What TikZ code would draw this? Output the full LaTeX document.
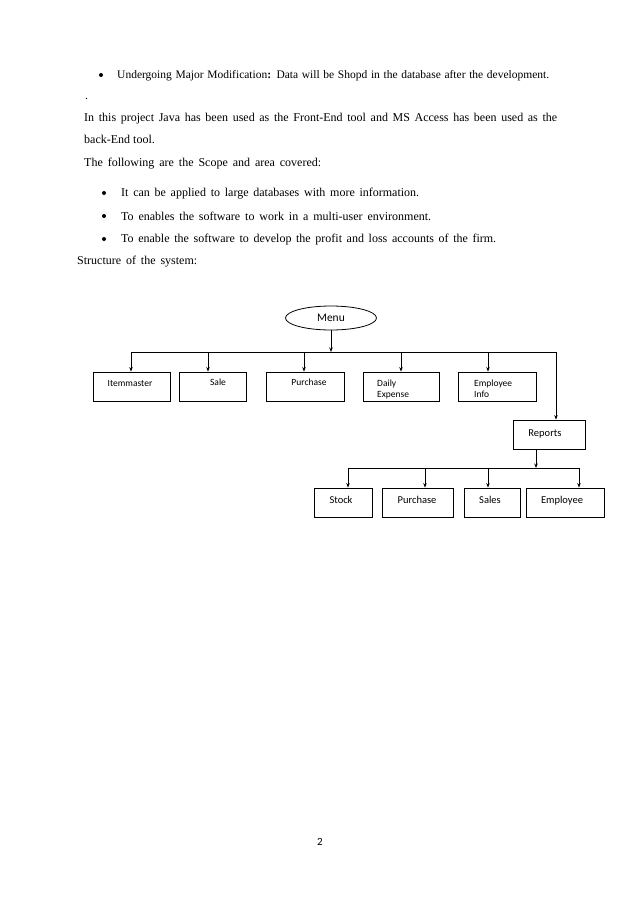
\documentclass[tikz,border=0pt]{standalone}
\usepackage{fontspec}
\setmainfont{Liberation Serif}
\newfontfamily\calfont{Carlito}
\usetikzlibrary{arrows.meta,shapes.geometric}
\begin{document}
\begin{tikzpicture}[x=1pt,y=-1pt,
 txt/.style={anchor=base west,inner sep=0pt,font=\fontsize{12}{14}\selectfont},
 bul/.style={circle,fill=black,inner sep=0pt,minimum size=4pt},
 box/.style={draw,line width=0.8pt,rectangle,inner sep=0pt,minimum height=29pt},
 lbl/.style={anchor=base,inner sep=0pt,font=\calfont\fontsize{9.5}{11}\selectfont},
 lbll/.style={anchor=base west,inner sep=0pt,font=\calfont\fontsize{9.5}{11}\selectfont},
 lblb/.style={anchor=base,inner sep=0pt,font=\calfont\fontsize{10.5}{12}\selectfont},
 con/.style={line width=0.8pt},
 arr/.style={line width=0.8pt,-{Stealth[length=4.5pt,width=3.5pt]}}]
\path[use as bounding box,fill=white] (0,0) rectangle (638,902);

% ---- body text ----
\node[bul] (b1) at (101,75) {};
\node[txt,font=\fontsize{11.5}{13}\selectfont] (t1) at (117,78) {\makebox[432pt][s]{Undergoing Major Modification\textbf{:} Data will be Shopd in the database after the development.}};
\node[txt] (t2) at (85,99) {.};
\node[txt] (t3) at (84,121) {\makebox[473pt][s]{In this project Java has been used as the Front-End tool and MS Access has been used as the}};
\node[txt] (t4) at (84,143) {back-End tool.};
\node[txt] (t5) at (84,166) {\makebox[237pt][s]{The following are the Scope and area covered:}};
\node[bul] (b2) at (104,193) {};
\node[txt] (t6) at (121,196) {\makebox[298pt][s]{It can be applied to large databases with more information.}};
\node[bul] (b3) at (104,216) {};
\node[txt] (t7) at (121,220) {\makebox[310pt][s]{To enables the software to work in a multi-user environment.}};
\node[bul] (b4) at (104,239) {};
\node[txt] (t8) at (121,242) {\makebox[375pt][s]{To enable the software to develop the profit and loss accounts of the firm.}};
\node[txt] (t9) at (77,264) {\makebox[120pt][s]{Structure of the system:}};

% ---- diagram ----
\node[draw,ellipse,line width=0.8pt,minimum width=91pt,minimum height=24pt,inner sep=0pt,font=\calfont\fontsize{11.5}{13}\selectfont] (menu) at (331,318) {Menu};

\node[box,minimum width=77pt] (im) at (131.5,386.5) {};
\node[box,minimum width=67pt] (sa) at (212.5,386.5) {};
\node[box,minimum width=78pt] (pu) at (305,386.5) {};
\node[box,minimum width=76pt] (de) at (401,386.5) {};
\node[box,minimum width=78pt] (ei) at (497,386.5) {};
\node[box,minimum width=72pt] (rep) at (549,434.5) {};
\node[box,minimum width=58pt] (st) at (343,502.5) {};
\node[box,minimum width=71pt] (pb) at (417.5,502.5) {};
\node[box,minimum width=56pt] (sl) at (492,502.5) {};
\node[box,minimum width=78pt] (em) at (565,502.5) {};

\node[lbl] (lim) at (130,386.5) {Itemmaster};
\node[lbl] (lsa) at (218,385.5) {Sale};
\node[lbl] (lpu) at (309,385.5) {Purchase};
\node[lbll] (lde1) at (377,386.5) {Daily};
\node[lbll] (lde2) at (377,397.5) {Expense};
\node[lbll] (lei1) at (474,386.5) {Employee};
\node[lbll] (lei2) at (474,397.5) {Info};
\node[lblb] (lrep) at (545,436) {Reports};
\node[lblb] (lst) at (341,503) {Stock};
\node[lblb] (lpb) at (417,503) {Purchase};
\node[lblb] (lsl) at (490,503) {Sales};
\node[lblb] (lem) at (562,503) {Employee};

% bus 1
\coordinate (m0) at (331,352);
\coordinate (c1) at (131,352);
\coordinate (c2) at (208,352);
\coordinate (c3) at (304,352);
\coordinate (c4) at (401,352);
\coordinate (c5) at (488,352);
\coordinate (c6) at (556,352);
\draw[arr] (menu.south) -- (m0);
\draw[con] (c1) -- (c6);
\draw[arr] (c1) -- (c1 |- im.north);
\draw[arr] (c2) -- (c2 |- sa.north);
\draw[arr] (c3) -- (c3 |- pu.north);
\draw[arr] (c4) -- (c4 |- de.north);
\draw[arr] (c5) -- (c5 |- ei.north);
\draw[arr] (c6) -- (c6 |- rep.north);

% bus 2
\coordinate (r0) at (536,468);
\coordinate (d1) at (348,468);
\coordinate (d2) at (425,468);
\coordinate (d3) at (488,468);
\coordinate (d4) at (579,468);
\draw[arr] (r0 |- rep.south) -- (r0);
\draw[con] (d1) -- (d4);
\draw[arr] (d1) -- (d1 |- st.north);
\draw[arr] (d2) -- (d2 |- pb.north);
\draw[arr] (d3) -- (d3 |- sl.north);
\draw[arr] (d4) -- (d4 |- em.north);

% page number
\node[inner sep=0pt,font=\calfont\fontsize{11}{13}\selectfont] (pg) at (320,842) {2};
\end{tikzpicture}
\end{document}
